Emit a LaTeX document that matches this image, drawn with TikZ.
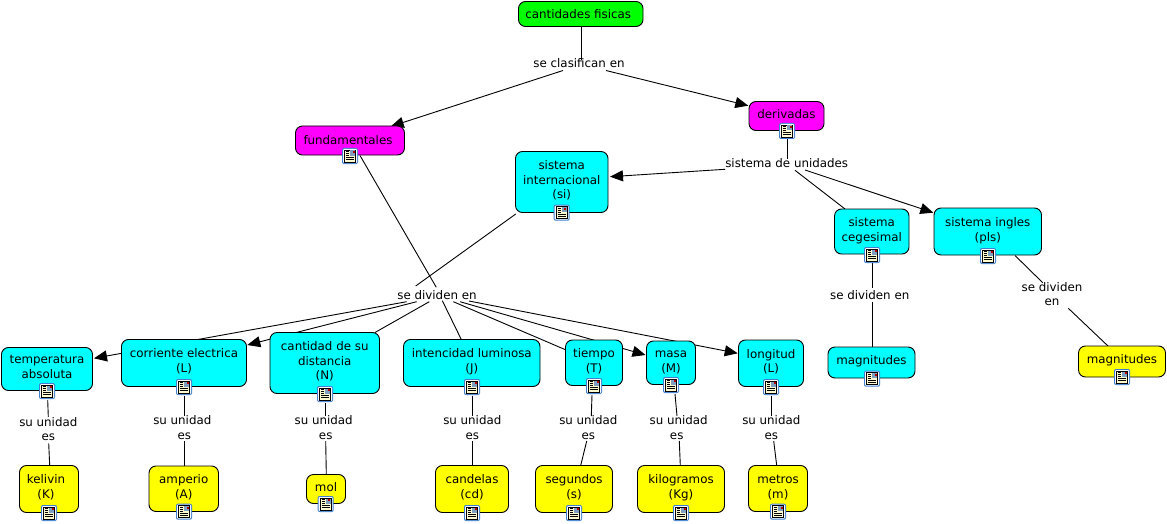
\documentclass[tikz,border=0pt]{standalone}
\usepackage{fontspec}
\setmainfont{DejaVu Sans}
\usetikzlibrary{arrows.meta,backgrounds}
\definecolor{cgreen}{HTML}{00FF00}
\definecolor{cmag}{HTML}{FF00FF}
\definecolor{ccyan}{HTML}{00FFFF}
\definecolor{cyel}{HTML}{FFFF00}
\definecolor{iconblue}{HTML}{3F7FD0}
\definecolor{iconpage}{HTML}{FFFBD0}
\definecolor{iconpic}{HTML}{7F9FC0}
\newcommand\mytxt[3][0]{\kern#1pt\raisebox{#2pt}[\height][\depth]{\begin{tabular}{@{}c@{}}#3\end{tabular}}\kern-#1pt}
\newcommand\mylab[1]{\begin{tabular}{@{}c@{}}#1\end{tabular}}
\newcommand\lnk[5][]{\draw[conn,#1] ([shift={(#3)}]#2.center) -- ([shift={(#5)}]#4.center);}
\tikzset{
  concept/.style={draw=black,line width=0.9pt,rounded corners=7pt,inner sep=0pt,font=\fontsize{11.85}{14.6}\selectfont},
  phrase/.style={inner sep=0pt,font=\fontsize{11.85}{14.6}\selectfont},
  conn/.style={draw=black,line width=0.9pt},
  arr/.style={-{Triangle[length=13pt,width=11pt]}},
  icon/.pic={
    \fill[iconblue,rounded corners=2pt] (-8,-8) rectangle (8,8);
    \fill[white,rounded corners=1pt] (-7,-7) rectangle (7,7);
    \filldraw[fill=iconpage,draw=black,line width=0.5pt] (-5.5,-6) rectangle (5.5,6);
    \fill[iconpic] (0,-5.5) rectangle (5,-0.5);
    \fill[red!70!black] (2.5,-5) rectangle (4.5,-3);
    \draw[black,line width=0.6pt] (-4,-4.5) -- (-1,-4.5) (-4,-2.5) -- (-1,-2.5) (-4,-0.5) -- (-1,-0.5)
       (-4,1.5) -- (4,1.5) (-4,3.5) -- (4,3.5);
  }
}
\begin{document}
\begin{tikzpicture}[x=1pt,y=-1pt]
\useasboundingbox (0,0) rectangle (1167,524);
% concepts
\node[concept,fill=cgreen,minimum width=124.5pt,minimum height=25pt] (top) at (580.75,14) {\mytxt[-2.5]{-2}{cantidades fisicas}};
\node[concept,fill=cmag,minimum width=109pt,minimum height=29pt] (fund) at (350,140.5) {\mytxt[-2]{-1}{fundamentales}};
\node[concept,fill=cmag,minimum width=75pt,minimum height=29pt] (deriv) at (786.5,116) {\mytxt{0.3}{derivadas}};
\node[concept,fill=ccyan,minimum width=92.5pt,minimum height=61pt] (si) at (561.75,182) {\mytxt{0.7}{sistema\\internacional\\(si)}};
\node[concept,fill=ccyan,minimum width=74.5pt,minimum height=45pt] (ceg) at (871.75,231.5) {\mytxt{0.7}{sistema\\cegesimal}};
\node[concept,fill=ccyan,minimum width=107.5pt,minimum height=47pt] (ing) at (987.75,231.5) {\mytxt{0.7}{sistema ingles\\(pls)}};
\node[concept,fill=ccyan,minimum width=87pt,minimum height=31pt] (mc) at (871.5,362.5) {\mytxt{0.7}{magnitudes}};
\node[concept,fill=cyel,minimum width=87pt,minimum height=31pt] (my) at (1122,361.5) {\mytxt{0.7}{magnitudes}};
\node[concept,fill=ccyan,minimum width=91pt,minimum height=43pt] (temp) at (47,369) {\mytxt{0.7}{temperatura\\absoluta}};
\node[concept,fill=ccyan,minimum width=125pt,minimum height=47pt] (corr) at (184,363) {\mytxt{0.7}{corriente electrica\\(L)}};
\node[concept,fill=ccyan,minimum width=109.5pt,minimum height=61pt] (cant) at (324.75,363) {\mytxt{0.7}{cantidad de su\\distancia\\(N)}};
\node[concept,fill=ccyan,minimum width=136.5pt,minimum height=47pt] (inte) at (471.75,363) {\mytxt{0.7}{intencidad luminosa\\(J)}};
\node[concept,fill=ccyan,minimum width=57pt,minimum height=45.5pt] (tiem) at (594,362.75) {\mytxt{0.7}{tiempo\\(T)}};
\node[concept,fill=ccyan,minimum width=49pt,minimum height=43.5pt] (masa) at (671,362.75) {\mytxt{0.7}{masa\\(M)}};
\node[concept,fill=ccyan,minimum width=65pt,minimum height=46.5pt] (long) at (771,363.25) {\mytxt{0.7}{longitud\\(L)}};
\node[concept,fill=cyel,minimum width=59pt,minimum height=47pt] (kel) at (49,489) {\mytxt[-3]{0.7}{kelivin\\(K)}};
\node[concept,fill=cyel,minimum width=69.5pt,minimum height=45.5pt] (amp) at (183.75,488.75) {\mytxt{0.7}{amperio\\(A)}};
\node[concept,fill=cyel,minimum width=39pt,minimum height=29pt] (mol) at (326,489) {\mytxt{0.7}{mol}};
\node[concept,fill=cyel,minimum width=73pt,minimum height=47pt] (cand) at (472,489) {\mytxt{0.7}{candelas\\(cd)}};
\node[concept,fill=cyel,minimum width=77pt,minimum height=47pt] (seg) at (574,489) {\mytxt{0.7}{segundos\\(s)}};
\node[concept,fill=cyel,minimum width=87pt,minimum height=47pt] (kil) at (681,489) {\mytxt{0.7}{kilogramos\\(Kg)}};
\node[concept,fill=cyel,minimum width=59pt,minimum height=46pt] (met) at (778,488.5) {\mytxt{0.7}{metros\\(m)}};
% linking phrases
\node[phrase] (clas) at (579,63.5) {se clasifican en};
\node[phrase] (sist) at (786.7,163.5) {sistema de unidades};
\node[phrase] (sed) at (437,295) {se dividen en};
\node[phrase] (sedb) at (869.7,295) {se dividen en};
\node[phrase] (sedc) at (1052,295.5) {\mylab{se dividen\\en}};
\node[phrase] (ua) at (48.3,430.5) {\mylab{su unidad\\es}};
\node[phrase] (ub) at (184.3,429) {\mylab{su unidad\kern4pt\\es}};
\node[phrase] (uc) at (325.7,429) {\mylab{su unidad\kern4pt\\es}};
\node[phrase] (ud) at (472.3,429) {\mylab{su unidad\\es}};
\node[phrase] (ue) at (588.3,429) {\mylab{su unidad\\es}};
\node[phrase] (uf) at (676.7,429) {\mylab{\kern4pt su unidad\\es}};
\node[phrase] (ug) at (771.3,429) {\mylab{su unidad\\es}};
% document icons
\foreach \ix/\iy in {350/156,787/131,561.7/212.7,872/255,988/256,872/378.7,1122/377,47/391,184/387,325/394,325.7/504,49/513,184/511.7,472/387,594/386,671/385,771/387,472/513,574/513,681/513,778/511.7}
  \pic at (\ix,\iy) {icon};
% connectors
\begin{scope}[on background layer]
\lnk{top}{0.95,12.5}{clas}{2.7,-3.5}
\lnk[arr]{clas}{-16,7}{fund}{40.7,-14}
\lnk[arr]{clas}{27,7}{deriv}{-38.2,-10.3}
\lnk{fund}{10,15}{sed}{-0.7,-7.7}
\lnk{si}{-46,32}{sed}{-21.3,-9}
\lnk[arr]{sed}{-30.3,6.7}{temp}{47,-10.7}
\lnk[arr]{sed}{-20.3,6.7}{corr}{63.3,-18}
\lnk{sed}{-7.7,6.7}{cant}{50.25,-30.5}
\lnk{sed}{5.3,5.7}{inte}{-10.45,-23.5}
\lnk{sed}{16.3,6.7}{tiem}{-28.5,-13}
\lnk[arr]{sed}{23,6.7}{masa}{-25.5,-7.75}
\lnk[arr]{sed}{32,6}{long}{-33.3,-9.95}
\lnk{temp}{0.7,31}{ua}{0,-13.5}
\lnk{ua}{0.4,12.8}{kel}{0.7,-23.5}
\lnk{corr}{0.3,33}{ub}{0,-13}
\lnk{ub}{0,12}{amp}{0.55,-22.75}
\lnk{cant}{0.95,39.7}{uc}{0,-13}
\lnk{uc}{0,12}{mol}{0.3,-14.5}
\lnk{inte}{0.55,32.7}{ud}{0,-13}
\lnk{ud}{0,12}{cand}{0.3,-23.5}
\lnk{tiem}{-2,32.25}{ue}{3,-13}
\lnk{ue}{-1.6,12}{seg}{6.7,-23.5}
\lnk{masa}{4,31.25}{uf}{0.3,-13}
\lnk{uf}{2.6,12}{kil}{-0.7,-23.5}
\lnk{long}{0.3,32.45}{ug}{0,-13}
\lnk{ug}{2.4,12}{met}{-1.3,-23}
\lnk{deriv}{0.8,23.3}{sist}{0.6,-4.2}
\lnk[arr]{sist}{-61.7,5.8}{si}{48.25,-5.3}
\lnk{sist}{8.3,6.8}{ceg}{-26.75,-22.5}
\lnk[arr]{sist}{18.3,6.5}{ing}{-54.45,-18.8}
\lnk{ceg}{0.95,31.8}{sedb}{3,-7}
\lnk{sedb}{3,6.7}{mc}{1.2,-15.5}
\lnk{ing}{27.25,24}{sedc}{-9.3,-12.8}
\lnk{sedc}{16.3,12.8}{my}{-13.7,-15.2}
\end{scope}
\end{tikzpicture}
\end{document}
